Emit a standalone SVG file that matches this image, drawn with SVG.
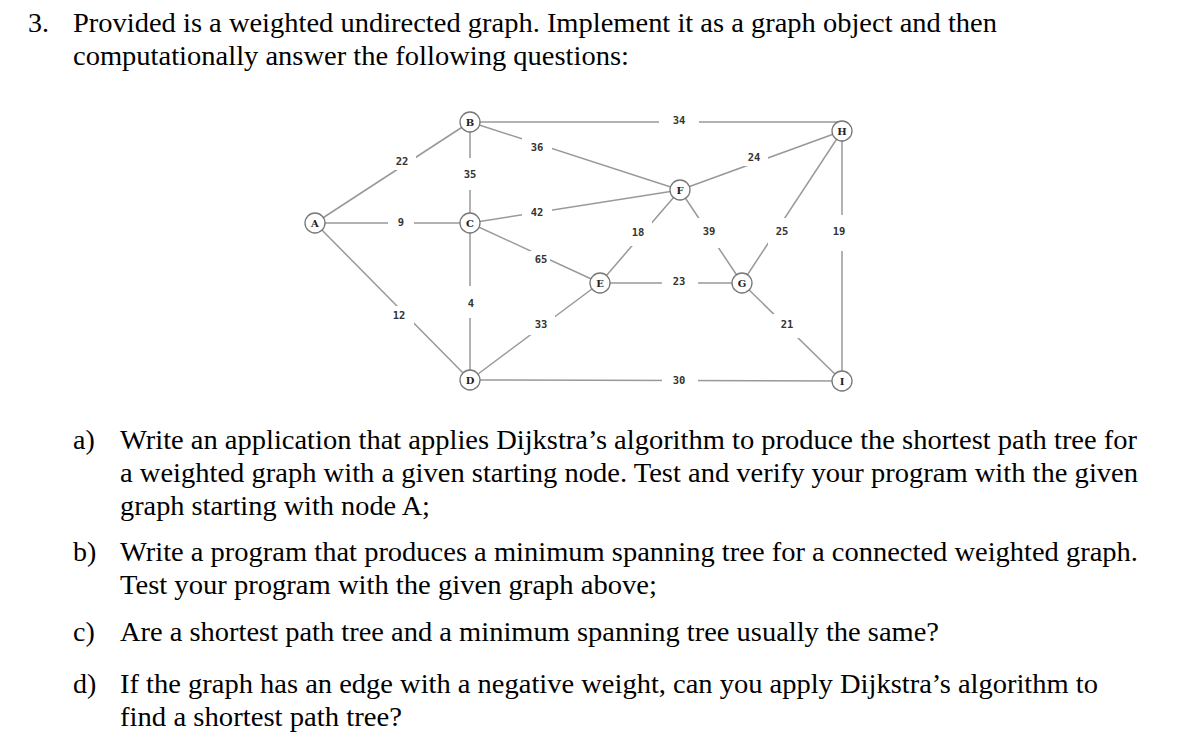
<svg xmlns="http://www.w3.org/2000/svg" width="1192" height="738" viewBox="0 0 1192 738">
<style>
.t{font-family:"Liberation Serif",serif;font-size:28px;fill:#000}
.e line{stroke:#999;stroke-width:1.5}
.lb{font-family:"DejaVu Sans Mono","Liberation Mono",monospace;font-size:10.5px;font-weight:bold;fill:#333;text-anchor:middle}
.bg{fill:#fff}
.n circle{fill:#fff;stroke:#777;stroke-width:1.3}
.n text{font-family:"DejaVu Serif",serif;font-size:10px;font-weight:bold;fill:#222;text-anchor:middle}
</style>
<rect width="1192" height="738" fill="#fff"/>
<text class="t" x="28" y="32">3.</text>
<text class="t" x="73" y="32" textLength="924" lengthAdjust="spacingAndGlyphs">Provided is a weighted undirected graph. Implement it as a graph object and then</text>
<text class="t" x="73" y="65" textLength="556" lengthAdjust="spacingAndGlyphs">computationally answer the following questions:</text>
<g class="e" id="connectors">
<line x1="315" y1="223" x2="470" y2="122"/><line x1="315" y1="223" x2="470" y2="223"/><line x1="315" y1="223" x2="470" y2="380"/>
<line x1="470" y1="122" x2="470" y2="223"/><line x1="470" y1="122" x2="680" y2="190"/><line x1="470" y1="122" x2="842" y2="122"/>
<line x1="470" y1="223" x2="470" y2="380"/><line x1="470" y1="223" x2="680" y2="190"/><line x1="470" y1="223" x2="600" y2="283"/>
<line x1="470" y1="380" x2="600" y2="283"/><line x1="470" y1="380" x2="842" y2="381"/>
<line x1="600" y1="283" x2="680" y2="190"/><line x1="600" y1="283" x2="742" y2="283"/>
<line x1="680" y1="190" x2="742" y2="283"/><line x1="680" y1="190" x2="842" y2="131"/>
<line x1="742" y1="283" x2="842" y2="131"/><line x1="742" y1="283" x2="842" y2="381"/>
<line x1="842" y1="131" x2="842" y2="381"/>
</g>
<g id="labels">
<rect class="bg" x="388" y="152" width="28" height="18"/><text class="lb" x="402" y="165">22</text>
<rect class="bg" x="458" y="158" width="24" height="32"/><text class="lb" x="470" y="178">35</text>
<rect class="bg" x="388" y="214" width="26" height="18"/><text class="lb" x="401" y="226">9</text>
<rect class="bg" x="522" y="138" width="30" height="18"/><text class="lb" x="537" y="151">36</text>
<rect class="bg" x="522" y="203" width="30" height="18"/><text class="lb" x="537" y="216">42</text>
<rect class="bg" x="530" y="251" width="20" height="15"/><text class="lb" x="541" y="263">65</text>
<rect class="bg" x="460" y="286" width="22" height="32"/><text class="lb" x="471" y="307">4</text>
<rect class="bg" x="386" y="306" width="28" height="20"/><text class="lb" x="399" y="319">12</text>
<rect class="bg" x="527" y="315" width="28" height="20"/><text class="lb" x="541" y="328">33</text>
<rect class="bg" x="659" y="114" width="40" height="16"/><text class="lb" x="679" y="124">34</text>
<rect class="bg" x="738" y="148" width="30" height="18"/><text class="lb" x="754" y="161">24</text>
<rect class="bg" x="624" y="220" width="28" height="26"/><text class="lb" x="638" y="236">18</text>
<rect class="bg" x="697" y="218" width="26" height="30"/><text class="lb" x="709" y="235">39</text>
<rect class="bg" x="768" y="218" width="28" height="30"/><text class="lb" x="782" y="235">25</text>
<rect class="bg" x="830" y="215" width="20" height="36"/><text class="lb" x="839" y="235">19</text>
<rect class="bg" x="662" y="274" width="36" height="18"/><text class="lb" x="679" y="285">23</text>
<rect class="bg" x="773" y="314" width="28" height="24"/><text class="lb" x="787" y="328">21</text>
<rect class="bg" x="662" y="373" width="36" height="18"/><text class="lb" x="679" y="384">30</text>
</g>
<g class="n" id="node-A"><circle cx="315" cy="223" r="10"/><text x="315" y="227">A</text></g>
<g class="n" id="node-B"><circle cx="470" cy="122" r="10"/><text x="470" y="126">B</text></g>
<g class="n" id="node-C"><circle cx="470" cy="223" r="10"/><text x="470" y="227">C</text></g>
<g class="n" id="node-D"><circle cx="470" cy="380" r="10"/><text x="470" y="384">D</text></g>
<g class="n" id="node-E"><circle cx="600" cy="283" r="10"/><text x="600" y="287">E</text></g>
<g class="n" id="node-F"><circle cx="680" cy="190" r="10"/><text x="680" y="194">F</text></g>
<g class="n" id="node-G"><circle cx="742" cy="283" r="10"/><text x="742" y="287">G</text></g>
<g class="n" id="node-H"><circle cx="842" cy="131" r="10"/><text x="842" y="135">H</text></g>
<g class="n" id="node-I"><circle cx="842" cy="381" r="10"/><text x="842" y="385">I</text></g>
<text class="t" x="73" y="449">a)</text><text class="t" x="120" y="449" textLength="1017" lengthAdjust="spacingAndGlyphs">Write an application that applies Dijkstra’s algorithm to produce the shortest path tree for</text>
<text class="t" x="120" y="482" textLength="1018" lengthAdjust="spacingAndGlyphs">a weighted graph with a given starting node. Test and verify your program with the given</text>
<text class="t" x="120" y="515" textLength="310" lengthAdjust="spacingAndGlyphs">graph starting with node A;</text>
<text class="t" x="73" y="561">b)</text><text class="t" x="120" y="561" textLength="1018" lengthAdjust="spacingAndGlyphs">Write a program that produces a minimum spanning tree for a connected weighted graph.</text>
<text class="t" x="120" y="594" textLength="537" lengthAdjust="spacingAndGlyphs">Test your program with the given graph above;</text>
<text class="t" x="73" y="641">c)</text><text class="t" x="120" y="641" textLength="819" lengthAdjust="spacingAndGlyphs">Are a shortest path tree and a minimum spanning tree usually the same?</text>
<text class="t" x="73" y="693">d)</text><text class="t" x="120" y="693" textLength="978" lengthAdjust="spacingAndGlyphs">If the graph has an edge with a negative weight, can you apply Dijkstra’s algorithm to</text>
<text class="t" x="120" y="726" textLength="282" lengthAdjust="spacingAndGlyphs">find a shortest path tree?</text>
</svg>
